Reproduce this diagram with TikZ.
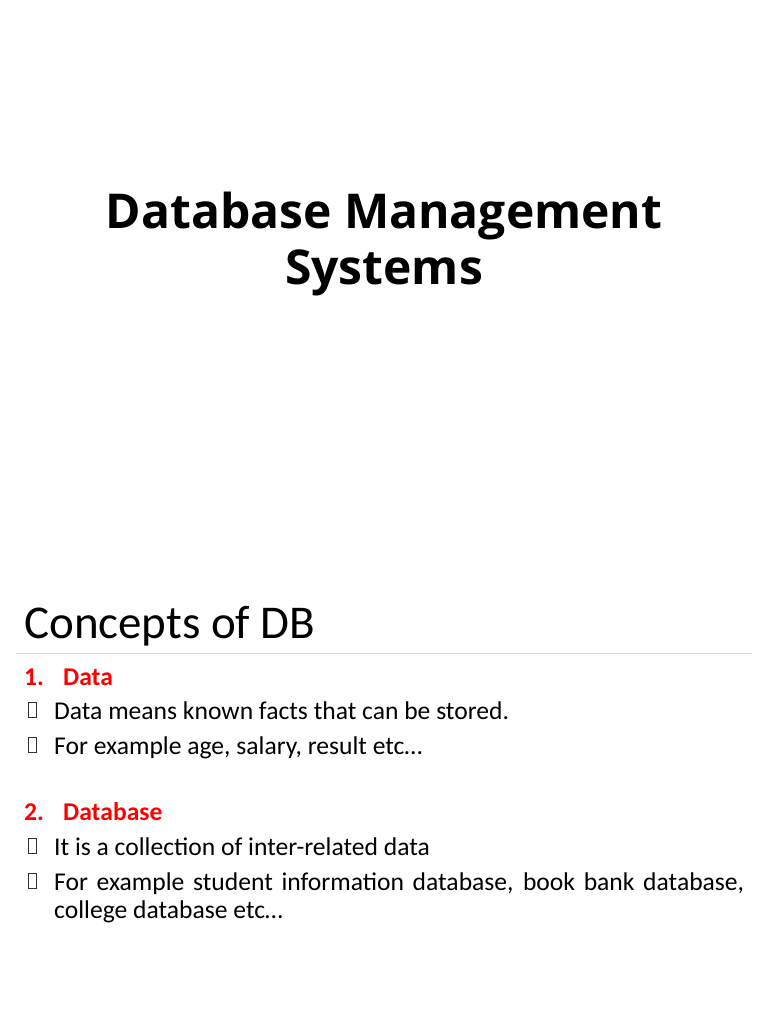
\documentclass[tikz,border=0pt]{standalone}
\usepackage{fontspec}
\setmainfont{Carlito}
\newfontfamily\titlefont{Open Sans}
\begin{document}
\begin{tikzpicture}[x=1pt,y=-1pt,
  body/.style={anchor=base west,inner sep=0pt,font=\fontsize{25.6}{35}\selectfont},
  head/.style={body,text=red,font=\fontsize{25.6}{35}\selectfont\bfseries},
  bul/.style={draw=black!80,line width=0.6pt,minimum width=8pt,minimum height=15pt,inner sep=0pt,anchor=south west}]
\useasboundingbox[fill=white] (0,0) rectangle (768,1024);
\node[align=center,inner sep=0pt,font=\titlefont\bfseries\fontsize{48}{56}\selectfont] (title) at (384,244) {Database Management\\Systems};
\node[anchor=base west,inner sep=0pt,font=\fontsize{47}{52}\selectfont] (ctitle) at (24,638) {Concepts of DB};
\draw[black!15,line width=1pt] (16,653) -- (752,653);
\node[head] (h1) at (24,685) {1.};
\node[head] (h1b) at (63,685) {Data};
\node[bul] (b1) at (28,718) {};
\node[body] (t1) at (54,719) {Data means known facts that can be stored.};
\node[bul] (b2) at (28,753) {};
\node[body] (t2) at (54,754) {For example age, salary, result etc…};
\node[head] (h2) at (24,820) {2.};
\node[head] (h2b) at (63,820) {Database};
\node[bul] (b3) at (28,854) {};
\node[body] (t3) at (54,855) {It is a collection of inter-related data};
\node[bul] (b4) at (28,889) {};
\node[body] (t4) at (54,890) {\makebox[690pt][s]{For example student information database, book bank database,}};
\node[body] (t5) at (54,918) {college database etc…};
\end{tikzpicture}
\end{document}
